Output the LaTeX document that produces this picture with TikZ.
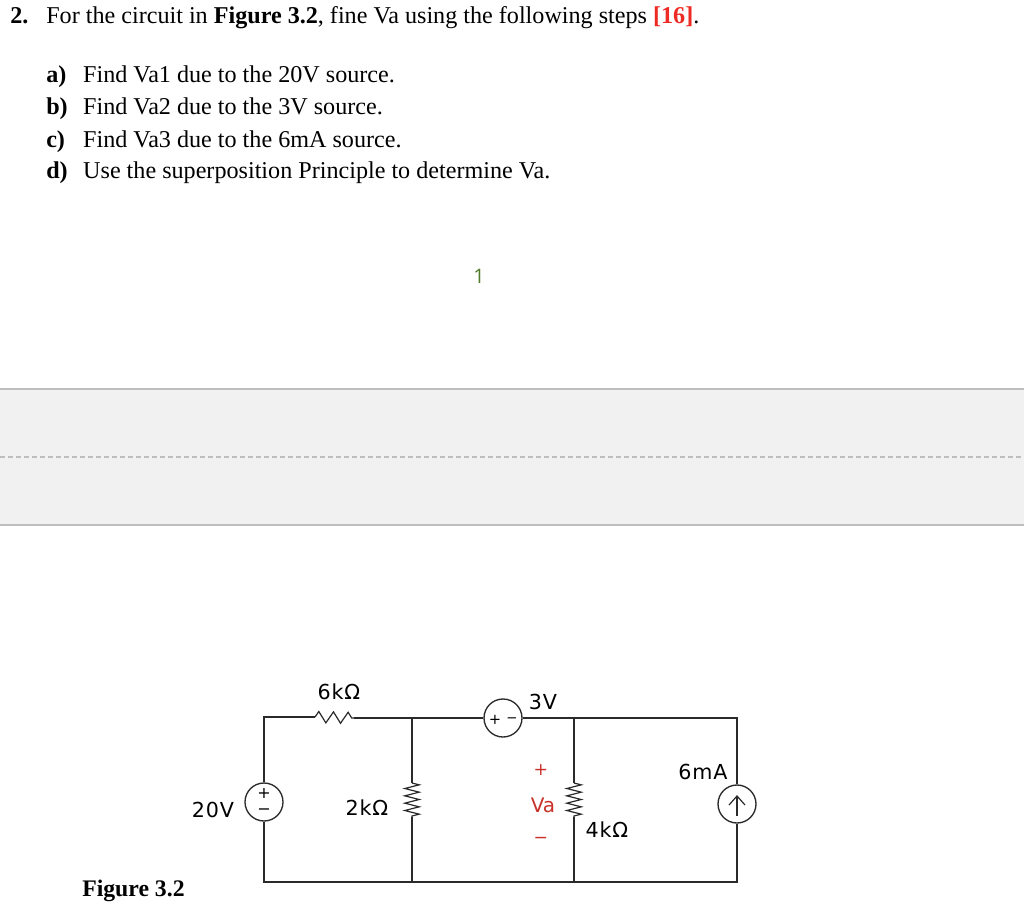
\documentclass[tikz,border=0pt]{standalone}
\usepackage{fontspec}
\setmainfont{Liberation Serif}
\newfontfamily\handfont[LetterSpace=4]{DejaVu Sans}
\newfontfamily\markfont{DejaVu Sans}
\newfontfamily\pagefont{Open Sans}
\usetikzlibrary{decorations.pathmorphing}
\definecolor{bandgray}{HTML}{F1F1F1}
\definecolor{rulegray}{HTML}{BEBEC0}
\definecolor{markred}{HTML}{EE2A24}
\definecolor{handred}{HTML}{C8322B}
\definecolor{pagegreen}{HTML}{4F7A28}
\definecolor{wirecolor}{HTML}{2A2A2A}
\newcommand{\itemtag}[1]{\makebox[27.7pt][l]{\textbf{#1}}}
\begin{document}
\begin{tikzpicture}[
        x=0.75pt, y=-0.75pt,
        textline/.style={anchor=base west, inner sep=0pt, font=\fontsize{18.1pt}{21pt}\selectfont},
        hand/.style={inner sep=0pt, font=\handfont\fontsize{15.5pt}{17pt}\selectfont, text=black},
        redhand/.style={inner sep=0pt, font=\markfont\fontsize{15pt}{17pt}\selectfont, text=handred},
        srcmark/.style={anchor=base, inner sep=0pt, font=\markfont\fontsize{12pt}{12pt}\selectfont},
        redmark/.style={srcmark, font=\markfont\fontsize{13pt}{13pt}\selectfont, text=handred},
        source/.style={circle, draw=wirecolor, line width=1pt, minimum size=28.5pt, inner sep=0pt, fill=white},
        wire/.style={draw=wirecolor, line width=1.15pt},
        resistor/.style={wire, line width=0.9pt, decorate, decoration={zigzag, segment length=5.5pt, amplitude=5.4pt}},
        wideresistor/.style={resistor, decoration={zigzag, segment length=11pt, amplitude=4.2pt}}
    ]
        \useasboundingbox (0,0) rectangle (1024,913);

        % answer band
        \fill[bandgray] (0,389) rectangle (1024,525);
        \draw[rulegray, line width=0.9pt] (0,389) -- (1024,389);
        \draw[rulegray, line width=0.9pt] (0,525) -- (1024,525);
        \draw[rulegray, line width=1.1pt, dash pattern=on 3.8pt off 2.2pt] (0,457) -- (1024,457);

        % question text
        \node (title) [textline] at (10,24) {\makebox[27pt][l]{\textbf{2.}}For the circuit in \textbf{Figure 3.2}, fine Va using the following steps \textcolor{markred}{\textbf{[16]}}.};
        \node (parta) [textline] at (46,83) {\itemtag{a)}Find Va1 due to the 20V source.};
        \node (partb) [textline] at (46,115) {\itemtag{b)}Find Va2 due to the 3V source.};
        \node (partc) [textline] at (46,147) {\itemtag{c)}Find Va3 due to the 6mA source.};
        \node (partd) [textline] at (46,179) {\itemtag{d)}Use the superposition Principle to determine Va.};
        \node (pagenum) [inner sep=0pt, font=\pagefont\fontsize{15pt}{16pt}\selectfont, text=pagegreen] at (479,276) {1};
        \node (figlabel) [textline, font=\bfseries\fontsize{17.8pt}{21pt}\selectfont] at (82,896) {Figure 3.2};

        % circuit corners and junctions
        \coordinate (tl) at (264,717);
        \coordinate (bl) at (264,882);
        \coordinate (tm) at (412,718);
        \coordinate (bm) at (412,882);
        \coordinate (tr) at (574,718);
        \coordinate (br) at (574,882);
        \coordinate (tc) at (737,718);
        \coordinate (bc) at (737,882);
        \coordinate (rsixa) at (315,717);
        \coordinate (rsixb) at (354,718);
        \coordinate (rtwoa) at (412,783);
        \coordinate (rtwob) at (412,817);
        \coordinate (rfoura) at (574,783);
        \coordinate (rfourb) at (574,817);

        % sources
        \node (vtwenty) [source] at (264,802) {};
        \node (vthree) [source] at (503,718) {};
        \node (isix) [source] at (737,804) {};

        % wires
        \draw[wire] (vtwenty) -- (tl) -- (rsixa);
        \draw[wire] (rsixb) -- (tm) -- (vthree);
        \draw[wire] (vthree) -- (tr) -- (tc) -- (isix);
        \draw[wire] (vtwenty) -- (bl) -- (bm) -- (br) -- (bc) -- (isix);
        \draw[wire] (tm) -- (rtwoa);
        \draw[wire] (rtwob) -- (bm);
        \draw[wire] (tr) -- (rfoura);
        \draw[wire] (rfourb) -- (br);

        % resistors
        \draw[wideresistor] (rsixa) -- (rsixb);
        \draw[resistor] (rtwoa) -- (rtwob);
        \draw[resistor] (rfoura) -- (rfourb);

        % source marks
        \node (vtwentyplus) [srcmark] at (264,798) {+};
        \node (vtwentyminus) [srcmark] at (264,814) {−};
        \node (vthreeplus) [srcmark, font=\markfont\fontsize{11pt}{11pt}\selectfont] at (495,724) {+};
        \node (vthreeminus) [srcmark, font=\markfont\fontsize{10pt}{10pt}\selectfont] at (512,722) {−};
        \coordinate (arrowfoot) at (737,816);
        \coordinate (arrowhead) at (737,796);
        \draw[wire, line width=0.9pt] (arrowfoot) -- (arrowhead);
        \draw[wire, line width=0.9pt] (729,805) -- (arrowhead) -- (745,805);

        % labels
        \node (lsix) [hand] at (339,692) {6kΩ};
        \node (ltwo) [hand] at (367,808) {2kΩ};
        \node (lfour) [hand] at (607,830) {4kΩ};
        \node (ltwenty) [hand] at (213,810) {20V};
        \node (lthree) [hand] at (543,702) {3V};
        \node (lsixma) [hand] at (703,772) {6mA};
        \node (lplus) [redmark] at (541,775) {+};
        \node (lva) [redhand] at (543,805) {Va};
        \node (lminus) [redmark] at (541,843) {−};
    \end{tikzpicture}
\end{document}
